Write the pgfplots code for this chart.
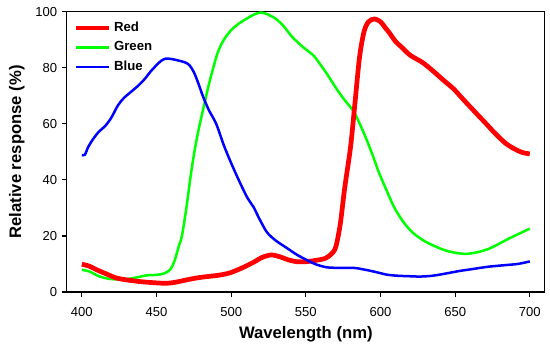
\documentclass[border=0pt]{standalone}
\usepackage{fontspec}
\setmainfont{Liberation Sans}
\usepackage{pgfplots}
\pgfplotsset{compat=1.18}
\definecolor{cRed}{RGB}{255,0,0}
\definecolor{cGreen}{RGB}{0,255,0}
\definecolor{cBlue}{RGB}{0,0,255}
\begin{document}
\begin{tikzpicture}
\begin{axis}[
  scale only axis,
  width=344pt, height=201.6pt,
  xmin=390, xmax=710, ymin=0, ymax=100,
  xtick={400,450,...,700}, ytick={0,20,...,100},
  tick align=outside, major tick length=3.6pt,
  xtick pos=left, ytick pos=left,
  axis line style={line width=0.8pt},
  tick style={line width=0.8pt, black},
  /pgf/number format/assume math mode=true,
  ticklabel style={font=\fontsize{9.4}{11}\selectfont},
  xticklabel style={yshift=-4pt},
  xlabel={\textbf{Wavelength (nm)}},
  ylabel={\textbf{Relative response (\%)}},
  label style={font=\fontsize{12}{14}\selectfont},
  xlabel style={at={(axis description cs:0.5,-0.152)}, anchor=center},
  ylabel style={at={(axis description cs:-0.1047,0.5)}, anchor=center},
  legend style={draw=none, fill=none, at={(axis description cs:0.005,0.985)}, anchor=north west,
     font=\bfseries\fontsize{9.5}{11}\selectfont, row sep=1.8pt},
  legend cell align=left,
  legend image code/.code={\draw[#1] (0pt,0pt) -- (24pt,0pt);},
]
\addlegendimage{cRed, line width=3pt}
\addlegendentry{Red}
\addlegendimage{cGreen, line width=1.8pt}
\addlegendentry{Green}
\addlegendimage{cBlue, line width=1.8pt}
\addlegendentry{Blue}

\addplot[cGreen, line width=1.8pt, smooth, forget plot] coordinates {
(400,7.9)(405,7.3)(412,5.5)(418,4.7)(423,4.5)(430,4.6)(436,5.1)(443,5.9)(450,6.1)(455,6.6)(459,7.9)
(462,11)(465,16.5)(467,20)(470,30)(473,42)(476,52)(479,60)(482,67)(485,74)(488,80)(491,85.5)(495,90)
(500,93.5)(505,95.8)(510,97.5)(515,99)(520,99.8)(525,99)(530,97.5)(535,95)(541,91)(548,87.5)(555,84.5)
(560,81)(564,78)(570,73)(576,68.5)(582,64.5)(587,59)(591,54)(595,48.5)(598,44)(601,40)(604,36.4)
(608,31.5)(611,28.5)(616,24.5)(622,21)(630,18)(640,15.5)(648,14.2)(657,13.6)(665,14.2)(672,15.3)
(678,16.8)(685,18.8)(692,20.6)(700,22.6)};

\addplot[cRed, line width=3.4pt, smooth, forget plot] coordinates {
(400,9.9)(405,9.2)(410,7.9)(417,6.3)(423,5.0)(430,4.3)(439,3.7)(448,3.3)(457,3.1)(464,3.6)(470,4.3)
(477,5.0)(484,5.5)(492,6.0)(499,6.8)(507,8.5)(515,10.6)(521,12.4)(527,13.2)(533,12.5)(538,11.5)
(544,10.8)(550,10.8)(557,11.3)(563,12.0)(567,13.5)(570,16)(573,24)(576,37)(580,52)(583,68)(586,84)
(589,93)(592,96.5)(596,97.5)(600,96.5)(603,94.5)(606,92.5)(610,89.5)(614,87.5)(620,84.5)(628,82)
(635,79)(642,75.7)(649,72.5)(655,69)(662,65)(670,60.5)(677,56.5)(684,53)(690,51)(695,49.8)(700,49.3)};

\addplot[cBlue, line width=1.8pt, smooth, forget plot] coordinates {
(400,48.9)(402,49)(404,51.5)(407,54.2)(411,57)(416,59.5)(420,62.5)(424,66.5)(428,69.2)(433,71.5)
(438,73.8)(442,76)(446,78.7)(450,81)(453,82.5)(456,83.3)(460,83.2)(465,82.6)(469,82)(472,81)(475,78.5)
(478,74.5)(481,70)(485,65)(490,60)(495,52.5)(500,46)(506,38.9)(511,33.5)(515,30.3)(519,26)(524,21.3)
(530,18.3)(537,15.8)(544,13.3)(551,11.3)(557,9.8)(564,8.8)(572,8.6)(582,8.6)(590,7.9)(597,7.1)
(604,6.2)(611,5.8)(620,5.6)(627,5.5)(635,5.8)(644,6.6)(653,7.5)(662,8.2)(672,9)(684,9.6)(692,10)(700,10.9)};
\end{axis}
\pgfresetboundingbox
\path (-48.2pt,-46.8pt) rectangle (347.8pt,210.2pt);
\end{tikzpicture}
\end{document}
